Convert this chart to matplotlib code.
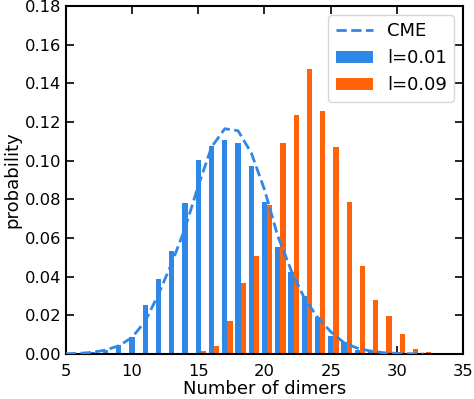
import matplotlib
matplotlib.use("Agg")
import matplotlib.pyplot as plt
import numpy as np

# Data
n_blue = list(range(6, 31))
p_blue = [0.0003, 0.0008, 0.0018, 0.0045, 0.0088, 0.0253, 0.0385, 0.0533, 0.0783,
          0.1004, 0.1076, 0.1107, 0.1093, 0.0974, 0.0785, 0.0555, 0.0426, 0.0300,
          0.0193, 0.0095, 0.0064, 0.0020, 0.0010, 0.0004, 0.0002]

n_orange = list(range(14, 34))
p_orange = [0.0003, 0.0015, 0.0043, 0.0169, 0.0367, 0.0505, 0.0768, 0.1090, 0.1235,
            0.1476, 0.1259, 0.1073, 0.0786, 0.0455, 0.0279, 0.0198, 0.0103, 0.0026,
            0.0009, 0.0005]

n_cme = list(range(5, 33))
p_cme = [0.0001, 0.0003, 0.0008, 0.0020, 0.0042, 0.0085, 0.0170, 0.0310, 0.0470,
         0.0650, 0.0870, 0.1070, 0.1165, 0.1155, 0.1040, 0.0850, 0.0610, 0.0435,
         0.0290, 0.0190, 0.0115, 0.0058, 0.0030, 0.0015, 0.0006, 0.0003, 0.0001, 0.0]

y_ticks = [0.00, 0.02, 0.04, 0.06, 0.08, 0.10, 0.12, 0.14, 0.16, 0.18]
x_ticks = [5, 10, 15, 20, 25, 30, 35]

blue = "#2f87e8"
orange = "#ff6208"
width = 0.4

fig = plt.figure(figsize=(4.74, 3.99), dpi=100)
ax = fig.add_axes([0.139, 0.113, 0.838, 0.872])

ax.plot(n_cme, p_cme, linestyle="--", color=blue, linewidth=2, label="CME", zorder=3)
ax.bar(n_blue, p_blue, width=width, color=blue, label="l=0.01", zorder=2)
ax.bar(np.array(n_orange) + width, p_orange, width=width, color=orange, label="l=0.09", zorder=2)

ax.set_xlim(5, 35)
ax.set_ylim(0, 0.18)
ax.set_xticks(x_ticks)
ax.set_yticks(y_ticks)
ax.set_yticklabels([f"{v:.2f}" for v in y_ticks])
ax.tick_params(direction="in", top=True, right=True, length=6, width=1.2,
               labelsize=11.8)
ax.tick_params(axis="x", pad=7.5)
for s in ax.spines.values():
    s.set_linewidth(1.5)

ax.set_xlabel("Number of dimers", fontsize=13, labelpad=0.5)
ax.set_ylabel("probability", fontsize=13, labelpad=2)

leg = ax.legend(loc="upper right", fontsize=13, handlelength=2.05,
                borderaxespad=0.5, framealpha=0.8)

fig.savefig("out.png", dpi=100)
